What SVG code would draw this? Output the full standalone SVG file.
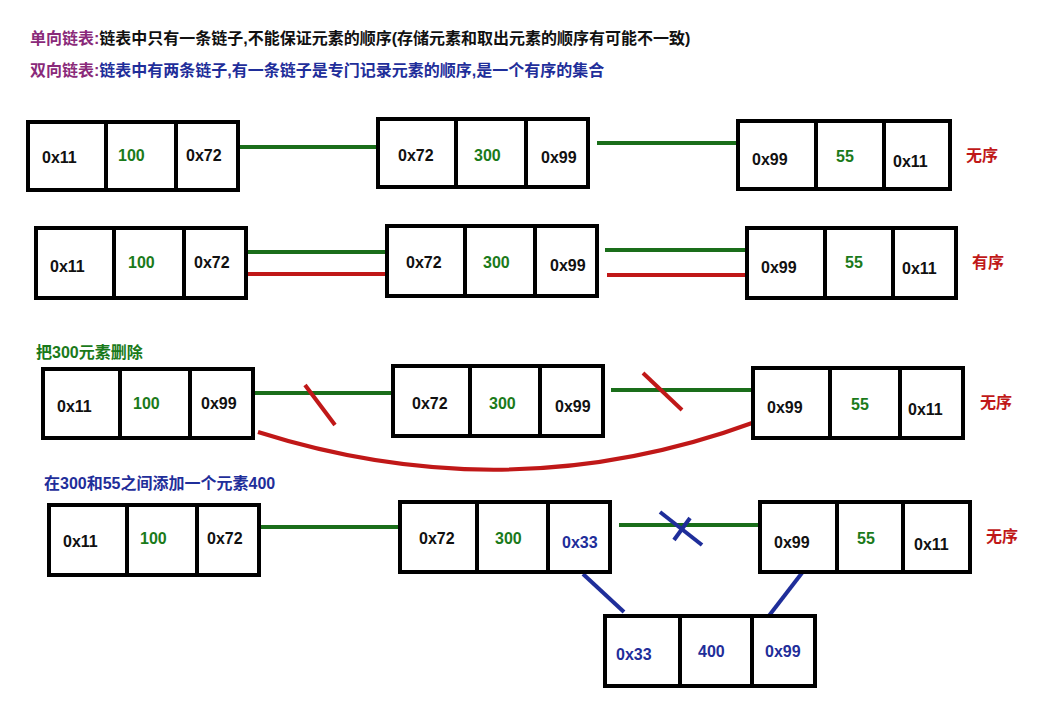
<svg xmlns="http://www.w3.org/2000/svg" width="1054" height="706" viewBox="0 0 1054 706">
<style>
.box{fill:#fff;stroke:#000;stroke-width:4}
.dv{stroke:#000;stroke-width:4}
text{font-family:"Liberation Sans","Noto Sans CJK SC",sans-serif;font-weight:bold;font-size:16px}
.k{fill:#111}.g{fill:#1a7a1a}.b{fill:#1f2e9a}.r{fill:#c01818}
.gl{stroke:#1a6e1a;stroke-width:4;fill:none}
.rl{stroke:#c01818;stroke-width:4;fill:none}
.bl{stroke:#1f2e9a;stroke-width:4;fill:none}
</style>
<rect width="1054" height="706" fill="#fff"/>
<text x="30" y="44" font-size="15"><tspan fill="#8a2a7a">单向链表:</tspan><tspan class="k">链表中只有一条链子,不能保证元素的顺序(存储元素和取出元素的顺序有可能不一致)</tspan></text>
<text x="30" y="76" font-size="15"><tspan fill="#8a2a7a">双向链表:</tspan><tspan class="b">链表中有两条链子,有一条链子是专门记录元素的顺序,是一个有序的集合</tspan></text>
<g id="connectors">
<line class="gl" x1="238" y1="147" x2="378" y2="147"/>
<line class="gl" x1="597" y1="143" x2="738" y2="143"/>
<line class="gl" x1="246" y1="252" x2="387" y2="252"/>
<line class="rl" x1="246" y1="274" x2="387" y2="274"/>
<line class="gl" x1="605" y1="250" x2="747" y2="250"/>
<line class="rl" x1="607" y1="275" x2="752" y2="275"/>
<line class="gl" x1="253" y1="393" x2="393" y2="393"/>
<line class="rl" x1="305" y1="385" x2="335" y2="425"/>
<line class="gl" x1="611" y1="390" x2="753" y2="390"/>
<line class="rl" x1="643" y1="373" x2="682" y2="410"/>
<path class="rl" d="M258,432 Q510,512 755,422"/>
<line class="gl" x1="259" y1="527" x2="400" y2="527"/>
<line class="gl" x1="619" y1="525" x2="760" y2="525"/>
<line class="bl" x1="660" y1="512" x2="702" y2="545"/>
<line class="bl" x1="690" y1="518" x2="674" y2="540"/>
<line class="bl" x1="583" y1="574" x2="624" y2="612"/>
<line class="bl" x1="805" y1="569" x2="768" y2="617"/>
</g>
<g id="r1a"><rect class="box" x="28" y="122" width="210" height="68"/><line class="dv" x1="106" y1="122" x2="106" y2="190"/><line class="dv" x1="176" y1="122" x2="176" y2="190"/><text class="k" x="42" y="163">0x11</text><text class="g" x="118" y="161">100</text><text class="k" x="186" y="161">0x72</text></g>
<g id="r1b"><rect class="box" x="378" y="119" width="210" height="68"/><line class="dv" x1="456" y1="119" x2="456" y2="187"/><line class="dv" x1="526" y1="119" x2="526" y2="187"/><text class="k" x="398" y="161">0x72</text><text class="g" x="474" y="161">300</text><text class="k" x="541" y="163">0x99</text></g>
<g id="r1c"><rect class="box" x="738" y="121" width="212" height="68"/><line class="dv" x1="816" y1="121" x2="816" y2="189"/><line class="dv" x1="884" y1="121" x2="884" y2="189"/><text class="k" x="752" y="165">0x99</text><text class="g" x="836" y="162">55</text><text class="k" x="893" y="167">0x11</text></g>
<text class="r" x="966" y="161">无序</text>
<g id="r2a"><rect class="box" x="36" y="228" width="210" height="70"/><line class="dv" x1="114" y1="228" x2="114" y2="298"/><line class="dv" x1="184" y1="228" x2="184" y2="298"/><text class="k" x="50" y="272">0x11</text><text class="g" x="128" y="268">100</text><text class="k" x="194" y="268">0x72</text></g>
<g id="r2b"><rect class="box" x="387" y="226" width="210" height="70"/><line class="dv" x1="465" y1="226" x2="465" y2="296"/><line class="dv" x1="535" y1="226" x2="535" y2="296"/><text class="k" x="406" y="268">0x72</text><text class="g" x="483" y="268">300</text><text class="k" x="550" y="271">0x99</text></g>
<g id="r2c"><rect class="box" x="747" y="228" width="209" height="70"/><line class="dv" x1="825" y1="228" x2="825" y2="298"/><line class="dv" x1="893" y1="228" x2="893" y2="298"/><text class="k" x="761" y="273">0x99</text><text class="g" x="845" y="268">55</text><text class="k" x="902" y="274">0x11</text></g>
<text class="r" x="972" y="268">有序</text>
<text class="g" x="36" y="358" font-size="15">把300元素删除</text>
<g id="r3a"><rect class="box" x="43" y="369" width="210" height="69"/><line class="dv" x1="120" y1="369" x2="120" y2="438"/><line class="dv" x1="190" y1="369" x2="190" y2="438"/><text class="k" x="57" y="412">0x11</text><text class="g" x="133" y="409">100</text><text class="k" x="201" y="409">0x99</text></g>
<g id="r3b"><rect class="box" x="393" y="366" width="210" height="70"/><line class="dv" x1="470" y1="366" x2="470" y2="436"/><line class="dv" x1="540" y1="366" x2="540" y2="436"/><text class="k" x="412" y="409">0x72</text><text class="g" x="489" y="409">300</text><text class="k" x="555" y="412">0x99</text></g>
<g id="r3c"><rect class="box" x="753" y="368" width="210" height="70"/><line class="dv" x1="830" y1="368" x2="830" y2="438"/><line class="dv" x1="900" y1="368" x2="900" y2="438"/><text class="k" x="767" y="413">0x99</text><text class="g" x="851" y="410">55</text><text class="k" x="908" y="415">0x11</text></g>
<text class="r" x="980" y="408">无序</text>
<text class="b" x="44" y="489" font-size="15">在300和55之间添加一个元素400</text>
<g id="r4a"><rect class="box" x="49" y="505" width="210" height="70"/><line class="dv" x1="127" y1="505" x2="127" y2="575"/><line class="dv" x1="197" y1="505" x2="197" y2="575"/><text class="k" x="63" y="547">0x11</text><text class="g" x="140" y="544">100</text><text class="k" x="207" y="544">0x72</text></g>
<g id="r4b"><rect class="box" x="400" y="502" width="210" height="70"/><line class="dv" x1="477" y1="502" x2="477" y2="572"/><line class="dv" x1="548" y1="502" x2="548" y2="572"/><text class="k" x="419" y="544">0x72</text><text class="g" x="495" y="544">300</text><text class="b" x="562" y="548">0x33</text></g>
<g id="r4c"><rect class="box" x="760" y="502" width="210" height="70"/><line class="dv" x1="837" y1="502" x2="837" y2="572"/><line class="dv" x1="903" y1="502" x2="903" y2="572"/><text class="k" x="774" y="548">0x99</text><text class="g" x="857" y="544">55</text><text class="k" x="914" y="550">0x11</text></g>
<text class="r" x="986" y="542">无序</text>
<g id="r4d"><rect class="box" x="605" y="616" width="210" height="70"/><line class="dv" x1="680" y1="616" x2="680" y2="686"/><line class="dv" x1="752" y1="616" x2="752" y2="686"/><text class="b" x="616" y="660">0x33</text><text class="b" x="698" y="657">400</text><text class="b" x="765" y="657">0x99</text></g>
</svg>
